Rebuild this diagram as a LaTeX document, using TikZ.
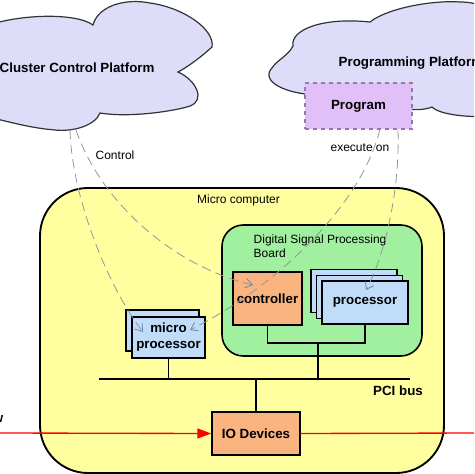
\documentclass[tikz,border=0pt]{standalone}
\usepackage{fontspec}
\setmainfont{Liberation Sans}
\usetikzlibrary{arrows.meta}

\definecolor{cloudblue}{RGB}{221,221,250}
\definecolor{progviolet}{RGB}{224,192,246}
\definecolor{progedge}{RGB}{150,120,175}
\definecolor{pcyellow}{RGB}{255,255,160}
\definecolor{dspgreen}{RGB}{160,240,160}
\definecolor{ctrlorange}{RGB}{250,180,128}
\definecolor{cpublue}{RGB}{192,220,248}
\definecolor{linkgray}{RGB}{150,150,150}
\definecolor{tipblue}{RGB}{105,135,170}

\tikzset{
  unitbox/.style={draw, line width=1.1pt, inner sep=0pt, align=center, font=\bfseries},
  cpubox/.style={unitbox, fill=cpublue},
  link/.style={draw=linkgray, line width=0.6pt, dash pattern=on 7pt off 4pt,
    -{Straight Barb[length=5pt,width=7pt,color=tipblue]}},
  wire/.style={line width=1.1pt},
}

\begin{document}
\begin{tikzpicture}[x=0.75pt,y=0.75pt,yscale=-1,xscale=1,font=\fontsize{9}{10.4}\selectfont]
\useasboundingbox (0,0) rectangle (474,474);
\clip (0,0) rectangle (474,474);

% Shape: Cloud
\draw [fill=cloudblue, draw=black!80, line width=0.9pt]
  (-20,28) .. controls (15,14) and (75,12) .. (93,25)
  .. controls (98,6) and (125,-2) .. (150,3)
  .. controls (185,8) and (215,30) .. (212,47)
  .. controls (200,58) and (186,68) .. (178,72)
  .. controls (196,80) and (206,100) .. (190,106)
  .. controls (175,111) and (130,118) .. (100,113)
  .. controls (95,126) and (72,132) .. (55,130)
  .. controls (30,128) and (10,122) .. (-20,115) -- cycle ;
% Shape: Cloud
\draw [fill=cloudblue, draw=black!80, line width=0.9pt]
  (293,46) .. controls (290,30) and (322,17) .. (370,22)
  .. controls (386,9) and (430,0) .. (460,2)
  .. controls (480,2) and (495,10) .. (495,20) -- (495,116)
  .. controls (470,118) and (440,115) .. (432,107)
  .. controls (420,112) and (395,110) .. (380,100)
  .. controls (345,100) and (315,96) .. (305,94)
  .. controls (276,90) and (262,78) .. (272,68)
  .. controls (277,60) and (288,56) .. (293,46) -- cycle ;

% Text Node
\node [anchor=west, font=\bfseries] (ccp) at (-5,68) {Cluster Control Platform};
% Text Node
\node [anchor=west, font=\bfseries] (pp) at (334,63) {Programming Platform};
% Program
\node [unitbox, fill=progviolet, draw=progedge, line width=0.8pt, dashed,
  minimum width=80.25pt, minimum height=34.5pt] (prog) at (358.5,106) {Program};

% Micro computer
\draw [fill=pcyellow, line width=1.4pt, rounded corners=36pt] (40,188) rectangle (444,473) ;
\node (mc) at (238.5,200) {Micro computer};
% DSP board
\draw [fill=dspgreen, line width=1.2pt, rounded corners=16pt] (222,225) rectangle (422,356) ;
\node [anchor=west, align=left] (dsp) at (249,246) {Digital Signal Processing\\Board};

% Units
\node [unitbox, fill=ctrlorange, minimum width=51.75pt, minimum height=39.75pt] (ctrl) at (267.5,298.5) {controller};
\node [cpubox, minimum width=64.5pt, minimum height=32.25pt] (proc3) at (354,291) {};
\node [cpubox, minimum width=64.5pt, minimum height=32.25pt] (proc2) at (359.5,297) {};
\node [cpubox, minimum width=64.5pt, minimum height=32.25pt] (proc) at (365,302.5) {processor};
\node [cpubox, minimum width=54.75pt, minimum height=30.75pt] (mp2) at (162.5,330.5) {};
\node [cpubox, minimum width=54.75pt, minimum height=30.75pt] (mp) at (168.5,337.5) {micro\\processor};
\node [unitbox, fill=ctrlorange, minimum width=66pt, minimum height=32.25pt] (io) at (256,433.5) {IO Devices};

% PCI bus
\coordinate (busL) at (99,379);
\coordinate (busR) at (410,379);
\coordinate (dspjoin) at (318,343);
\draw [wire] (busL) -- (busR) ;
\node [font=\bfseries] (pci) at (398,391) {PCI bus};
\draw [wire] (ctrl.south) |- (dspjoin) -| (proc.south) ;
\draw [wire] (dspjoin) -- (dspjoin |- busL) ;
\draw [wire] (mp.south) -- (mp.south |- busL) ;
\draw [wire] (io.north) -- (io.north |- busL) ;

% Data flow
\coordinate (flowin) at (0,433);
\coordinate (flowout) at (474,433);
\node [anchor=east, font=\bfseries] (flow) at (8,419) {w};
\draw [red, line width=1pt, -{Triangle[length=10.5pt,width=7.5pt]}] (flowin) -- (io.west) ;
\draw [red, line width=1pt] (io.east) -- (flowout) ;

% Connection
\coordinate (ccp1) at (70,130);
\coordinate (ccp2) at (76,130);
\coordinate (prog1) at (380,129);
\coordinate (prog2) at (398,130);
\draw [link] (ccp1) .. controls (72,200) and (110,290) .. (143,332) ;
\draw [link] (ccp2) .. controls (100,200) and (170,265) .. (253,285) ;
\draw [link] (prog2) .. controls (400,190) and (385,255) .. (366,290) ;
\draw [link] (prog1) .. controls (360,210) and (270,290) .. (190,330) ;
\node (ctrltxt) at (115,155) {Control};
\node (exectxt) at (360,148) {execute on};

\end{tikzpicture}
\end{document}
